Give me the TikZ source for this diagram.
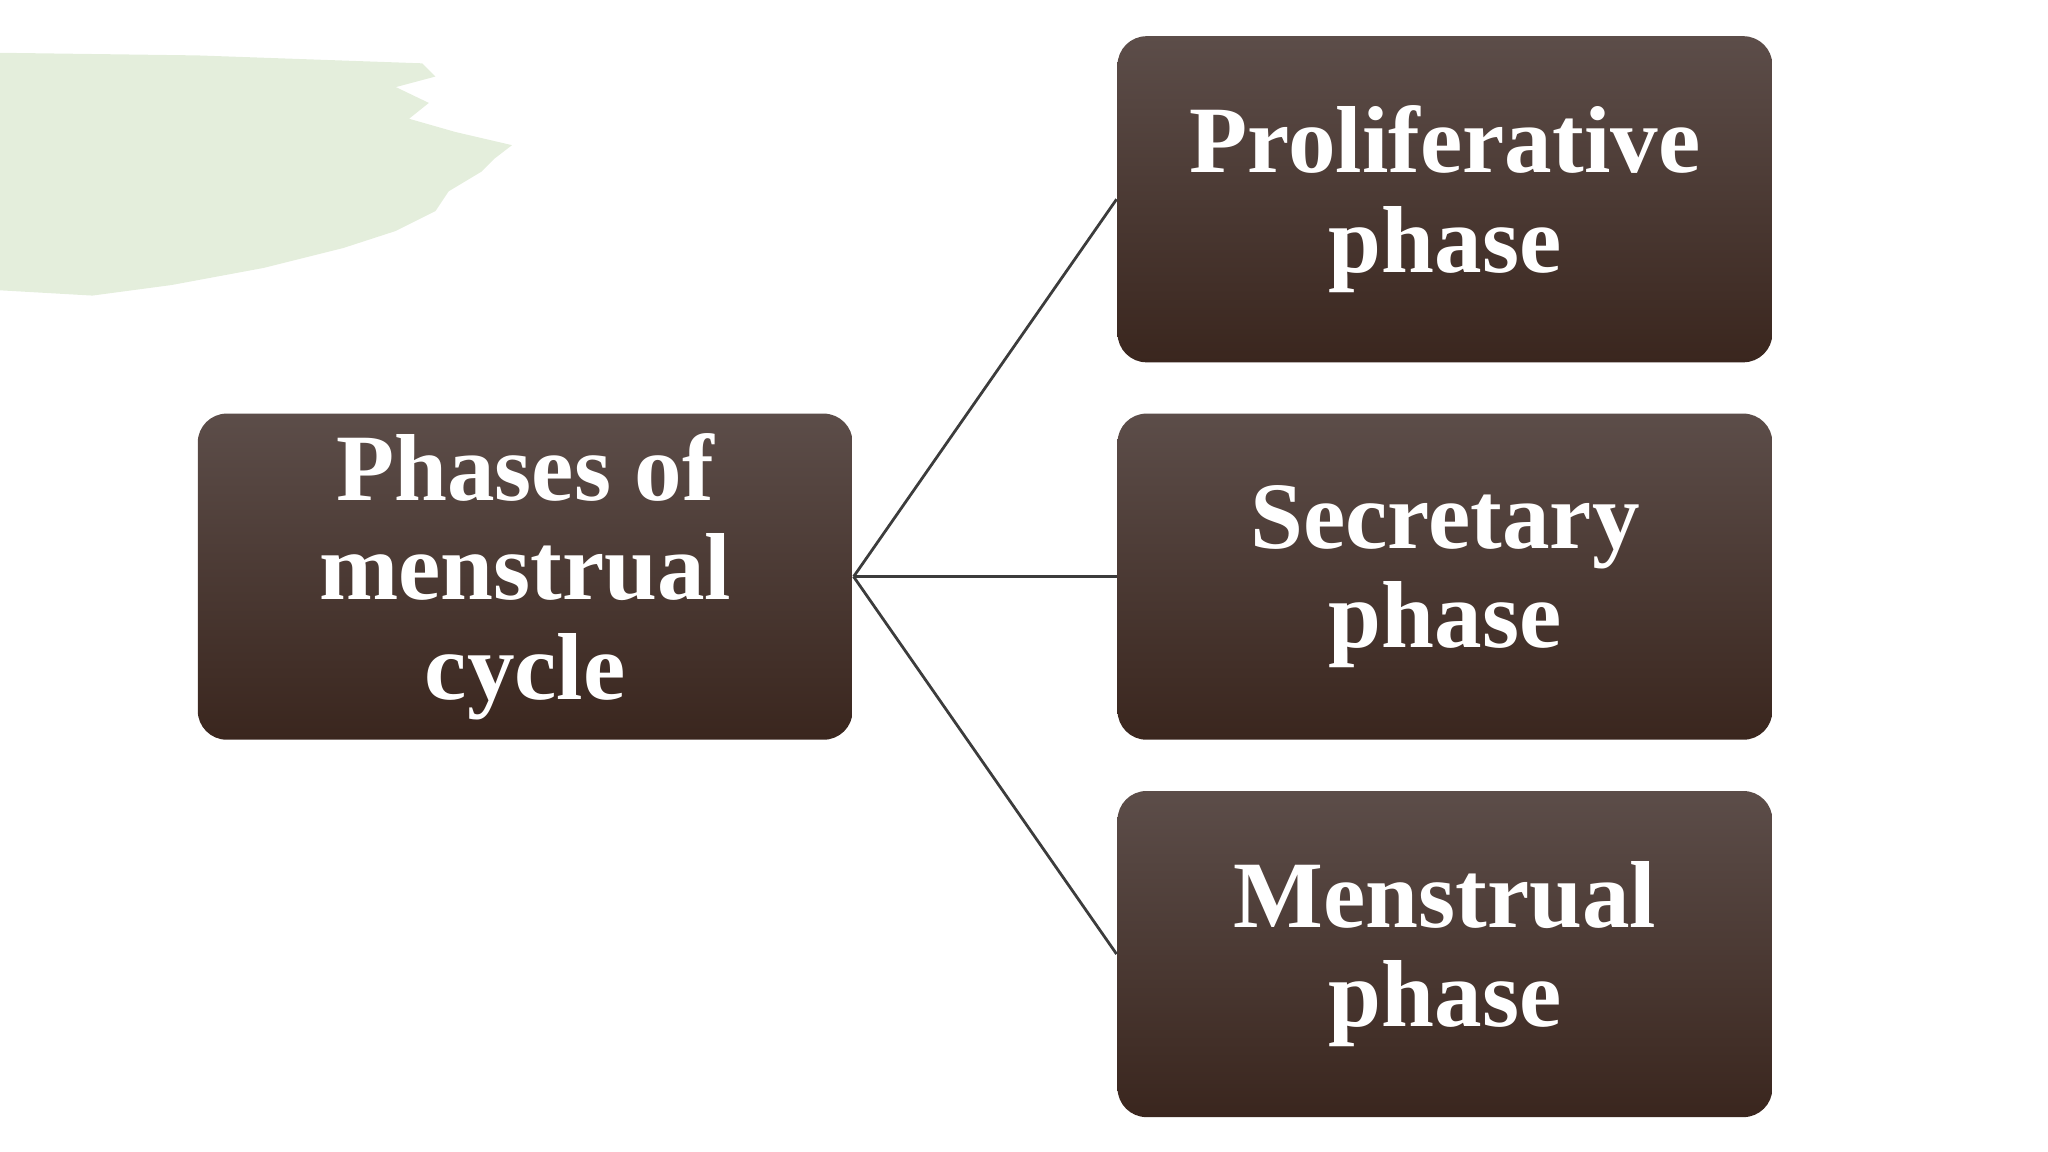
\documentclass[tikz,border=0pt]{standalone}
\usepackage{fontspec}
\setmainfont{Liberation Serif}
\usetikzlibrary{positioning}

\begin{document}
\begin{tikzpicture}[
    x=0.01cm, y=-0.01cm,
    % Styles
    phase/.style={% For the brown boxes
        rectangle,
        rounded corners=2.2mm,
        minimum width=4.96cm,
        minimum height=2.47cm,
        top color=brown!50!black!70!white!90!black,
        bottom color=brown!40!black,
        top color={rgb,255:red,92;green,77;blue,73},
        bottom color={rgb,255:red,58;green,38;blue,30},
        text=white,
        font=\fontsize{20.5}{21.5}\selectfont\bfseries,
        align=center,
    },
    link/.style={% For connectors
        draw={rgb,255:red,60;green,60;blue,60},
        line width=0.6pt,
    },
    ]
    \useasboundingbox (0,0) rectangle (1552,873);

    % Brush stroke
    \fill[fill={rgb,255:red,228;green,238;blue,220}]
        (0,40) -- (150,42) -- (320,48) -- (330,58) -- (300,66) -- (325,78)
        -- (310,90) -- (345,100) -- (388,110) -- (375,120) -- (365,130)
        -- (340,145) -- (330,160) -- (300,175) -- (260,188) -- (200,203)
        -- (130,216) -- (70,224) -- (0,220) -- cycle;

    % Boxes
    \node[phase] (cycle) at (398,437) {Phases of\\menstrual\\cycle};
    \node[phase] (prolif) at (1095,151) {Proliferative\\phase};
    \node[phase] (secr) at (1095,437) {Secretary\\phase};
    \node[phase] (mens) at (1095,723) {Menstrual\\phase};

    % Connectors
    \draw[link] (cycle.east) -- (prolif.west);
    \draw[link] (cycle.east) -- (secr.west);
    \draw[link] (cycle.east) -- (mens.west);
\end{tikzpicture}
\end{document}
